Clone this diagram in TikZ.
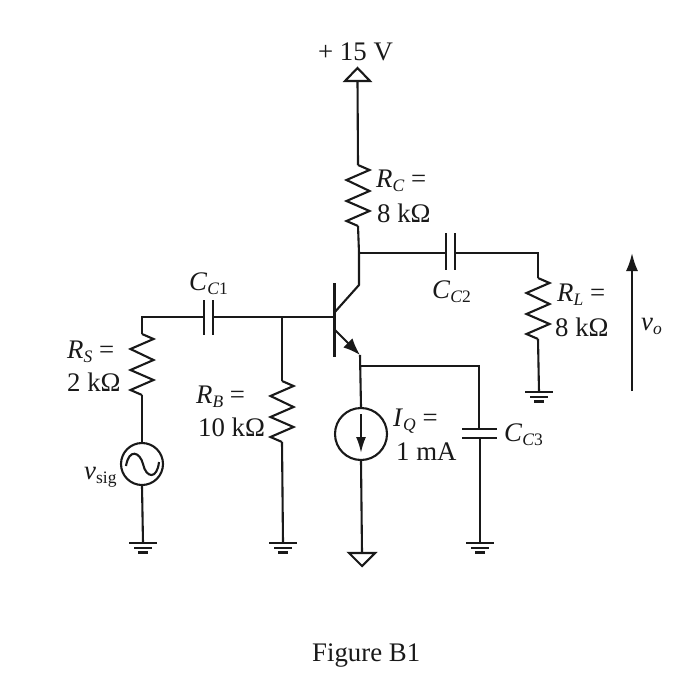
\documentclass[tikz,border=0pt]{standalone}
\usepackage{fontspec}
\setmainfont{Liberation Serif}
\usetikzlibrary{arrows.meta}
\newcommand{\sbs}[1]{\raisebox{-4.5pt}{\fontsize{17.5}{17.5}\selectfont #1}}
\tikzset{
  wire/.style={line width=2.1pt,line join=miter,color=black!90},
  plate/.style={line width=2.4pt,color=black!90},
  lab/.style={anchor=base west,inner sep=0pt,font=\fontsize{26.8}{26.8}\selectfont,text=black!90},
  rail/.style={line width=2.1pt,color=black!90,fill=white},
  res/.pic={\draw[wire] (0,0) -- (11.5,5) -- (-11.5,15) -- (11.5,26) -- (-11.5,36) -- (11.5,46) -- (-11.5,56) -- (0,61);},
  gnd/.pic={\draw[wire] (-14,0) -- (14,0) (-9,5) -- (9,5) (-5,9.5) -- (5,9.5);}
}
\begin{document}
\begin{tikzpicture}[x=1pt,y=-1pt]
\useasboundingbox (0,0) rectangle (700,698);
\fill[white] (0,0) rectangle (700,698);
% named points
\coordinate (vcc) at (357.5,81);
\coordinate (rct) at (358,165);
\coordinate (rcb) at (358,226);
\coordinate (cj) at (359,253);
\coordinate (cu) at (359,285);
\coordinate (bj) at (282,317);
\coordinate (bb) at (333,317);
\coordinate (bl) at (142,317);
\coordinate (c1a) at (204,317);
\coordinate (c1b) at (213,317);
\coordinate (c2a) at (446,253);
\coordinate (c2b) at (455,253);
\coordinate (rl) at (538,253);
\coordinate (rlt) at (538,278);
\coordinate (rlb) at (538,339);
\coordinate (gl) at (539,392);
\coordinate (rst) at (142,334);
\coordinate (rsb) at (142,395);
\coordinate (gs) at (143,543);
\coordinate (rbt) at (282,381);
\coordinate (rbb) at (282,442);
\coordinate (gb) at (283,543);
\coordinate (ed) at (360,355);
\coordinate (ej) at (360,366);
\coordinate (c3t) at (479,366);
\coordinate (c3a) at (479,429);
\coordinate (c3b) at (480,438);
\coordinate (g3) at (480,543);
\coordinate (vee) at (362,553);
\coordinate (bct) at (334,313);
\coordinate (bem) at (334,329);
% sources
\node[circle,draw=black!90,line width=2.1pt,minimum size=42pt,inner sep=0pt] (vs) at (142,464) {};
\node[circle,draw=black!90,line width=2.1pt,minimum size=52pt,inner sep=0pt] (iq) at (361,434) {};
% wires
\draw[wire] (vcc) -- (rct);
\path (rct) pic {res};
\draw[wire] (rcb) -- (cj) -- (cu) -- (bct);
\draw[wire] (cj) -- (c2a);
\draw[wire] (c2b) -- (rl) -- (rlt);
\path (rlt) pic {res};
\draw[wire] (rlb) -- (gl);
\path (gl) pic {gnd};
\draw[wire] (rst) |- (c1a);
\draw[wire] (c1b) -- (bb);
\path (rst) pic {res};
\draw[wire] (rsb) -- (vs.north);
\draw[wire] (vs.south) -- (gs);
\path (gs) pic {gnd};
\draw[wire] (bj) -- (rbt);
\path (rbt) pic {res};
\draw[wire] (rbb) -- (gb);
\path (gb) pic {gnd};
\draw[wire] (ed) -- (iq.north);
\draw[wire] (iq.south) -- (vee);
\draw[wire] (ej) -- (c3t) -- (c3a);
\draw[wire] (c3b) -- (g3);
\path (g3) pic {gnd};
% capacitors
\draw[plate] (446,233) -- (446,270) (455,233) -- (455,270);
\draw[plate] (204,300) -- (204,335) (213,300) -- (213,335);
\draw[plate] (462,429) -- (497,429) (462,438) -- (497,438);
% transistor
\draw[line width=3pt,color=black!90] (334,283) -- (334,357);
\draw[wire,-{Latex[length=17pt,width=13pt]}] (bem) -- (ed);
% rails
\draw[rail] (vcc) -- (345,81) -- (357.5,68) -- (370,81) -- cycle;
\draw[rail] (vee) -- (349,553) -- (362,566) -- (375,553) -- cycle;
% source symbols
\draw[wire] (126,466) .. controls (129,448) and (140,452) .. (143,464) .. controls (146,478) and (157,480) .. (159,462);
\draw[wire,-{Latex[length=16pt,width=10pt]}] (iq.center) ++(0,-20) -- ++(0,39);
% vo arrow
\coordinate (vb) at (632,391);
\coordinate (vt) at (632,253);
\draw[wire,-{Latex[length=18pt,width=12pt]}] (vb) -- (vt);
% labels
\node[lab] (l15) at (318,61) {+ 15 V};
\node[lab] (lrc) at (376,187) {\textit{R}\sbs{\textit{C}} =};
\node[lab] (lrc2) at (377,222) {8 kΩ};
\node[lab] (lc1) at (189,290) {\textit{C}\sbs{\textit{C}1}};
\node[lab] (lc2) at (432,298) {\textit{C}\sbs{\textit{C}2}};
\node[lab] (lrl) at (557,301) {\textit{R}\sbs{\textit{L}} =};
\node[lab] (lrl2) at (555,336) {8 kΩ};
\node[lab] (lvo) at (641,330) {\textit{v}\sbs{\textit{o}}};
\node[lab] (lrs) at (67,358) {\textit{R}\sbs{\textit{S}} =};
\node[lab] (lrs2) at (67,391) {2 kΩ};
\node[lab] (lrb) at (196,403) {\textit{R}\sbs{\textit{B}} =};
\node[lab] (lrb2) at (198,436) {10 kΩ};
\node[lab] (lvs) at (84,479) {\textit{v}\sbs{sig}};
\node[lab] (liq) at (393,426) {\textit{I}\sbs{\textit{Q}} =};
\node[lab] (liq2) at (396,460) {1 mA};
\node[lab] (lc3) at (504,441) {\textit{C}\sbs{\textit{C}3}};
\node[lab] (lfig) at (312,661) {Figure B1};
\end{tikzpicture}
\end{document}
